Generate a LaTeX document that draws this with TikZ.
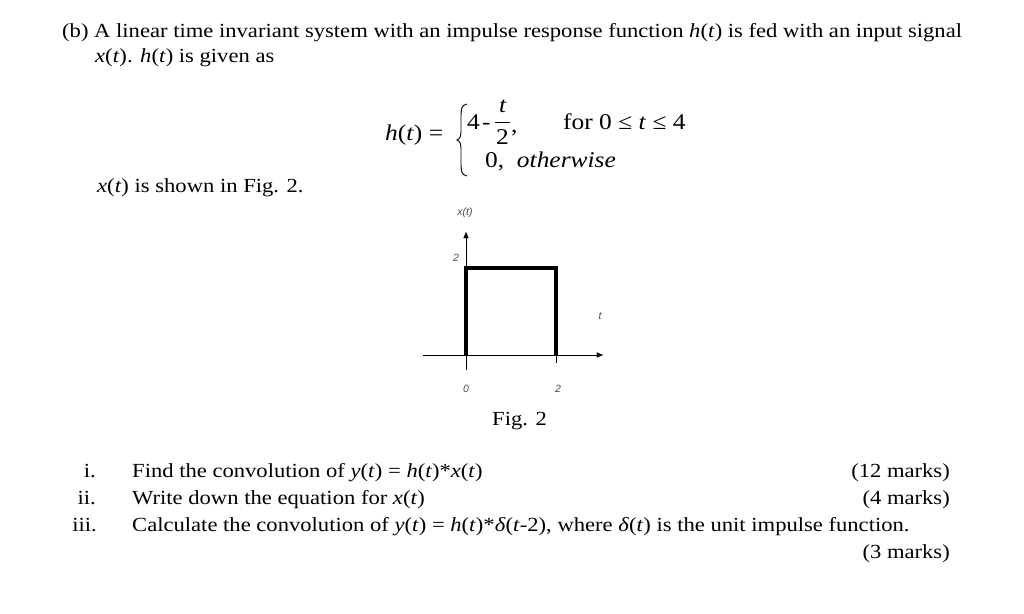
\documentclass[tikz,border=0pt]{standalone}
\usepackage{fontspec}
\setmainfont{Liberation Serif}[FakeStretch=1.13]
\newfontfamily\plotfont{Liberation Sans}
\usetikzlibrary{arrows,positioning}
\tikzstyle{txt} = [anchor=base west, inner sep=0pt, font=\fontsize{20}{25}\selectfont]
\tikzstyle{txtr} = [anchor=base east, inner sep=0pt, font=\fontsize{20}{25}\selectfont]
\tikzstyle{eq} = [anchor=base west, inner sep=0pt, font=\fontsize{22.5}{25}\selectfont]
\tikzstyle{lbl} = [inner sep=0pt, text=black!70, font=\plotfont\itshape\fontsize{10.5}{12}\selectfont]
\tikzstyle{axis} = [thin,->,>=triangle 45]
\tikzstyle{pulse} = [line width=4.2pt]

\begin{document}
\begin{tikzpicture}[x=1pt,y=-1pt]
	\useasboundingbox[fill=white] (0,0) rectangle (1024,613);
	% question text
	\node [txt] (q1) at (62,37) {(b) A linear time invariant system with an impulse response function \textit{h}(\textit{t}) is fed with an input signal};
	\node [txt] (q2) at (95,62) {\textit{x}(\textit{t}). \textit{h}(\textit{t}) is given as};
	% impulse response
	\node [eq] (ht) at (385,140) {\textit{h}(\textit{t}) =};
	\draw [line width=0.9pt] (467,104) .. controls (461,105) and (461,110) .. (461,117)
		-- (461,131) .. controls (461,136) and (460,139) .. (457,140)
		.. controls (460,141) and (461,144) .. (461,149)
		-- (461,163) .. controls (461,170) and (461,175) .. (467,176);
	\node [eq] (four) at (467,129) {4};
	\node [eq] (minus) at (482,129) {-};
	\node [eq] (tnum) at (499,112) {\textit{t}};
	\draw [line width=0.9pt] (495,122) -- (510,122);
	\node [eq] (tden) at (496,144) {2};
	\node [eq] (comma) at (511,132) {,};
	\node [eq] (cond) at (563,129) {for 0 ≤ \textit{t} ≤ 4};
	\node [eq] (zero) at (485,167) {0,\ \ \textit{otherwise}};
	\node [txt] (shown) at (97,192) {\textit{x}(\textit{t}) is shown in Fig. 2.};
	% fig. 2
	\coordinate (o) at (466,355);
	\coordinate (ytop) at (466,232);
	\coordinate (xend) at (603,355);
	\coordinate (xbeg) at (423,355);
	\draw [axis] (466,370) -- (ytop);
	\draw [axis] (xbeg) -- (xend);
	\draw (556,355) -- (556,363);
	\draw [pulse] (o) -- (466,268) -- (556,268) -- (556,355);
	\node [lbl] (xlab) at (465,213) {x(t)};
	\node [lbl] (two) at (456,258) {2};
	\node [lbl] (tlab) at (600,316) {t};
	\node [lbl] (zlab) at (466,389) {0};
	\node [lbl] (tlab2) at (558,389) {2};
	\node [txt] (fig) at (492,425) {Fig. 2};
	% parts
	\node [txtr] (n1) at (96,477) {i.};
	\node [txtr] (n2) at (96,504) {ii.};
	\node [txtr] (n3) at (97,531) {iii.};
	\node [txt] (p1) at (132,477) {Find the convolution of \textit{y}(\textit{t}) = \textit{h}(\textit{t})*\textit{x}(\textit{t})};
	\node [txt] (p2) at (132,504) {Write down the equation for \textit{x}(\textit{t})};
	\node [txt] (p3) at (132,531) {Calculate the convolution of \textit{y}(\textit{t}) = \textit{h}(\textit{t})*\textit{δ}(\textit{t}-2), where \textit{δ}(\textit{t}) is the unit impulse function.};
	\node [txtr] (m1) at (950,477) {(12 marks)};
	\node [txtr] (m2) at (950,504) {(4 marks)};
	\node [txtr] (m3) at (950,558) {(3 marks)};
\end{tikzpicture}
\end{document}
